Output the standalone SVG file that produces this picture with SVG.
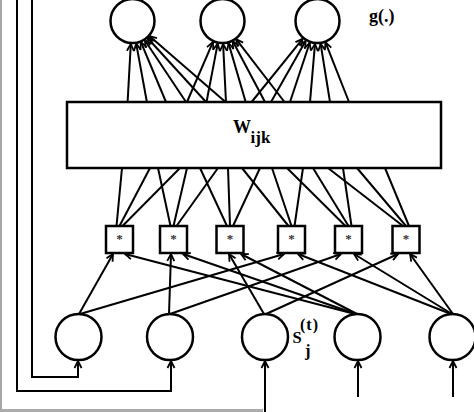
<svg xmlns="http://www.w3.org/2000/svg" width="474" height="412" viewBox="0 0 474 412">
<style>
.nd{fill:#fff;stroke:#000;stroke-width:2.5}
.ln{fill:none;stroke:#000;stroke-width:2}
.ar{fill:none;stroke:#000;stroke-width:2;marker-end:url(#ah)}
.t{font-family:"Liberation Serif","Times New Roman",serif;font-weight:bold;fill:#000}
.st{font-family:"Liberation Serif","Times New Roman",serif;font-weight:bold;fill:#333;font-size:13px;text-anchor:middle}
</style>
<defs>
<marker id="ah" markerWidth="12" markerHeight="12" viewBox="-9 -6 12 12" refX="0" refY="0" orient="auto" markerUnits="userSpaceOnUse">
<path d="M-7,-3.5 L0,0 L-7,3.5" fill="none" stroke="#000" stroke-width="1.8"/>
</marker>
</defs>
<rect width="474" height="412" fill="#fff"/>
<rect x="0" y="0" width="2" height="412" fill="#a6a6a6"/>
<rect x="0" y="409" width="263" height="3" fill="#ababab"/>

<g id="connectors">
<line class="ar" x1="127.6" y1="102" x2="130.8" y2="44.0"/>
<line class="ar" x1="146.9" y1="102" x2="136.2" y2="43.6"/>
<line class="ar" x1="166" y1="102" x2="140.9" y2="42.2"/>
<line class="ar" x1="186" y1="102" x2="144.8" y2="40.2"/>
<line class="ar" x1="206" y1="102" x2="147.5" y2="38.0"/>
<line class="ar" x1="225.5" y1="102" x2="149.4" y2="36.1"/>
<line class="ar" x1="187" y1="102" x2="212.9" y2="42.1"/>
<line class="ar" x1="206.5" y1="102" x2="217.7" y2="43.6"/>
<line class="ar" x1="226" y1="102" x2="223.1" y2="44.0"/>
<line class="ar" x1="245.7" y1="102" x2="228.5" y2="43.1"/>
<line class="ar" x1="265" y1="102" x2="232.8" y2="41.3"/>
<line class="ar" x1="284.5" y1="102" x2="236.1" y2="39.2"/>
<line class="ar" x1="251.6" y1="102" x2="302.6" y2="38.9"/>
<line class="ar" x1="271" y1="102" x2="305.6" y2="41.0"/>
<line class="ar" x1="290" y1="102" x2="309.7" y2="42.8"/>
<line class="ar" x1="310" y1="102" x2="315.0" y2="43.9"/>
<line class="ar" x1="330" y1="102" x2="320.6" y2="43.7"/>
<line class="ar" x1="349" y1="102" x2="325.5" y2="42.4"/>
<line class="ln" x1="116.5" y1="226" x2="122" y2="168"/>
<line class="ln" x1="170.5" y1="226" x2="158" y2="168"/>
<line class="ln" x1="227" y1="226" x2="200" y2="168"/>
<line class="ln" x1="288.5" y1="226" x2="242" y2="168"/>
<line class="ln" x1="345.5" y1="226" x2="287" y2="168"/>
<line class="ln" x1="403" y1="226" x2="328" y2="168"/>
<line class="ln" x1="119.5" y1="226" x2="150" y2="168"/>
<line class="ln" x1="173.5" y1="226" x2="187" y2="168"/>
<line class="ln" x1="230" y1="226" x2="228" y2="168"/>
<line class="ln" x1="291.5" y1="226" x2="272" y2="168"/>
<line class="ln" x1="348.5" y1="226" x2="313" y2="168"/>
<line class="ln" x1="406" y1="226" x2="357" y2="168"/>
<line class="ln" x1="122.5" y1="226" x2="180" y2="168"/>
<line class="ln" x1="176.5" y1="226" x2="218" y2="168"/>
<line class="ln" x1="233" y1="226" x2="260" y2="168"/>
<line class="ln" x1="294.5" y1="226" x2="303" y2="168"/>
<line class="ln" x1="351.5" y1="226" x2="343" y2="168"/>
<line class="ln" x1="409" y1="226" x2="385" y2="168"/>
<line class="ar" x1="79" y1="314" x2="113" y2="254"/>
<line class="ar" x1="355" y1="314" x2="125" y2="254"/>
<line class="ar" x1="169" y1="314" x2="171" y2="254"/>
<line class="ar" x1="356" y1="314" x2="183" y2="254"/>
<line class="ar" x1="264" y1="314" x2="229" y2="254"/>
<line class="ar" x1="357" y1="314" x2="241" y2="254"/>
<line class="ar" x1="80" y1="314" x2="284" y2="254"/>
<line class="ar" x1="451" y1="314" x2="298" y2="254"/>
<line class="ar" x1="170" y1="314" x2="341" y2="254"/>
<line class="ar" x1="452" y1="314" x2="354" y2="254"/>
<line class="ar" x1="266" y1="314" x2="398" y2="254"/>
<line class="ar" x1="453" y1="314" x2="410" y2="254"/>
<polyline class="ar" points="17,0 17,391 171,391 171,361"/>
<polyline class="ar" points="32,0 32,377 78,377 78,361"/>
<line class="ar" x1="265" y1="412" x2="265" y2="361"/>
<line class="ar" x1="358" y1="397" x2="358" y2="361"/>
<line class="ar" x1="453" y1="397" x2="453" y2="361"/>
</g>

<g id="out1"><circle class="nd" cx="132.5" cy="21" r="22"/></g>
<g id="out2"><circle class="nd" cx="222.5" cy="21" r="22"/></g>
<g id="out3"><circle class="nd" cx="317.5" cy="21" r="22"/></g>
<g id="glabel"><text class="t" x="369" y="22" font-size="18">g(.)</text></g>

<g id="weights">
<rect class="nd" x="67" y="102" width="374" height="66"/>
<text class="t" x="233" y="133" font-size="18">W</text>
<text class="t" x="250.5" y="143" font-size="17">ijk</text>
</g>

<g id="p1"><rect class="nd" x="106" y="226" width="27" height="27"/><text class="st" x="119.5" y="243">*</text></g>
<g id="p2"><rect class="nd" x="160" y="226" width="27" height="27"/><text class="st" x="173.5" y="243">*</text></g>
<g id="p3"><rect class="nd" x="216.5" y="226" width="27" height="27"/><text class="st" x="230" y="243">*</text></g>
<g id="p4"><rect class="nd" x="278" y="226" width="27" height="27"/><text class="st" x="291.5" y="243">*</text></g>
<g id="p5"><rect class="nd" x="335" y="226" width="27" height="27"/><text class="st" x="348.5" y="243">*</text></g>
<g id="p6"><rect class="nd" x="392.5" y="226" width="27" height="27"/><text class="st" x="406" y="243">*</text></g>

<g id="in1"><circle class="nd" cx="78.5" cy="337" r="23"/></g>
<g id="in2"><circle class="nd" cx="170" cy="337" r="23"/></g>
<g id="in3"><circle class="nd" cx="265" cy="337" r="23"/></g>
<g id="in4"><circle class="nd" cx="357.5" cy="337" r="23"/></g>
<g id="in5"><circle class="nd" cx="452.5" cy="337" r="23"/></g>
<g id="slabel">
<text class="t" x="292.5" y="343" font-size="16.5">S</text>
<text class="t" x="300" y="330" font-size="16" letter-spacing="1">(t)</text>
<text class="t" x="305" y="356" font-size="16.5">j</text>
</g>
</svg>
